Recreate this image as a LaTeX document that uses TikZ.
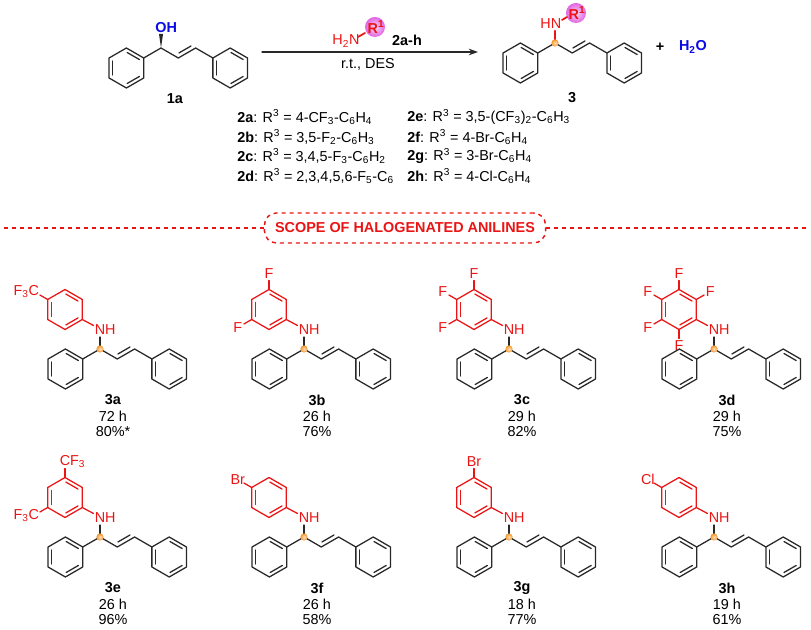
\documentclass[tikz,border=0pt]{standalone}
\usepackage{fontspec}
\setmainfont{Liberation Sans}
\usetikzlibrary{calc,arrows.meta}
\definecolor{rd}{RGB}{235,20,20}
\definecolor{bl}{RGB}{10,10,230}
\definecolor{bk}{RGB}{40,40,40}
\definecolor{pk}{RGB}{225,100,225}
\definecolor{og}{RGB}{245,150,40}
\tikzset{bond/.style={draw=bk,line width=0.95pt,line join=round,line cap=round},
 rbond/.style={draw=rd,line width=0.95pt,line join=round,line cap=round},
 txt/.style={font=\fontsize{10.8}{13}\selectfont,inner sep=0pt},
 rtxt/.style={txt,text=rd},
 ball/.style={inner color=pk!25,outer color=pk}}
\newcommand\hexa[2]{\begin{scope}[shift={#1}]
 \draw[#2] (-90:20)--(-30:20)--(30:20)--(90:20)--(150:20)--(210:20)--cycle;
 \foreach \a in {-90,30,150} \draw[#2] (\a+3:15.5)--(\a+57:15.5);
 \end{scope}}
\newcommand\skel[2]{\begin{scope}[shift={(#1,#2)}]
 \draw[bond] (-17.3,10) -- (0,0) -- (17.3,10) -- (34.6,0) -- (51.9,10);
 \draw[bond] (17.9,5) -- (30,-2);
 \hexa{(-34.6,20)}{bond}\hexa{(69.2,20)}{bond}
 \end{scope}}
\newcommand\odt[2]{\shade[inner color=og!30,outer color=og] (#1,#2) circle (3.6);}
\newcommand\aryl[2]{\begin{scope}[shift={(#1,#2)}]
 \draw[bond] (0,0)--(0,-12);
 \node[rtxt] at (0,-19) {N\rlap{H}};
 \draw[rbond] (-17.7,-29.5)--(-6.5,-23.5);
 \hexa{(-35,-39.5)}{rbond}
 \end{scope}}
\newcommand\subst[4]{\begin{scope}[shift={(#1-35,#2-39.5)}]
 \draw[rbond] (#3:20)--(#3:29);
 \node[rtxt] at (#3:36) {#4};
 \end{scope}}
\newcommand\lab[5]{\node[txt] at (#1+13,#2+51) {\textbf{#3}};
 \node[txt] at (#1+13,#2+67) {#4};
 \node[txt] at (#1+13,#2+83) {#5};}
\newcommand\Ft{F\textsubscript{3}}
\begin{document}
\begin{tikzpicture}[x=0.75pt,y=-0.75pt]
\useasboundingbox (0,0) rectangle (811,630);
% 1a
\skel{161}{48}
\fill[bk] (161,48) -- (159,34) -- (163,34) -- cycle;
\node[txt,text=bl] (oh) at (161,28) {\textbf{O\rlap{H}}};
\node[txt] (l1a) at (175,99) {\textbf{1a}};
% arrow
\coordinate (a1) at (262,52); \coordinate (a2) at (478,52);
\draw[bond,-{Stealth[length=7pt,width=5pt]}] (a1) -- (a2);
\node[rtxt] (h2n) at (346,41) {H\textsubscript{2}N};
\shade[ball] (375,27) circle (10);
\draw[rbond,line width=1.3pt] (358,37) -- (365,33);
\node[rtxt] (r1a) at (376,27) {\textbf{R\textsuperscript{1}}};
\node[txt] (ah) at (407,40) {\textbf{2a-h}};
\node[txt] (rt) at (368,64) {r.t., DES};
% product 3
\skel{555}{43}
\draw[rbond,line width=2.2pt] (555,43) -- (555,31);
\node[rtxt] (hn) at (556,24) {\llap{H}N};
\shade[ball] (576,13) circle (10);
\draw[rbond,line width=1.3pt] (562,20) -- (567,17);
\node[rtxt] (r1b) at (577,13) {\textbf{R\textsuperscript{1}}};
\odt{555}{43}
\node[txt] (l3) at (572,98) {\textbf{3}};
\node[txt] (plus) at (660,47) {\textbf{+}};
\node[txt,text=bl] (h2o) at (693,47) {\textbf{H\textsubscript{2}O}};
% list
\begin{scope}[every node/.style={txt,anchor=west}]
\node (la) at (237,117) {\textbf{2a}: R\textsuperscript{3} = 4-CF\textsubscript{3}-C\textsubscript{6}H\textsubscript{4}};
\node (lb) at (237,137) {\textbf{2b}: R\textsuperscript{3} = 3,5-F\textsubscript{2}-C\textsubscript{6}H\textsubscript{3}};
\node (lc) at (237,156) {\textbf{2c}: R\textsuperscript{3} = 3,4,5-F\textsubscript{3}-C\textsubscript{6}H\textsubscript{2}};
\node (ld) at (237,176) {\textbf{2d}: R\textsuperscript{3} = 2,3,4,5,6-F\textsubscript{5}-C\textsubscript{6}};
\node (le) at (407,117) {\textbf{2e}: R\textsuperscript{3} = 3,5-(CF\textsubscript{3})\textsubscript{2}-C\textsubscript{6}H\textsubscript{3}};
\node (lf) at (407,137) {\textbf{2f}: R\textsuperscript{3} = 4-Br-C\textsubscript{6}H\textsubscript{4}};
\node (lg) at (407,156) {\textbf{2g}: R\textsuperscript{3} = 3-Br-C\textsubscript{6}H\textsubscript{4}};
\node (lh) at (407,176) {\textbf{2h}: R\textsuperscript{3} = 4-Cl-C\textsubscript{6}H\textsubscript{4}};
\end{scope}
% divider
\node[txt,text=rd,draw=rd,dashed,line width=1.1pt,rounded corners=9pt,inner xsep=8pt,minimum height=30*0.75pt] (box) at (405,228) {\textbf{SCOPE OF HALOGENATED ANILINES}};
\coordinate (d1) at (4,228); \coordinate (d2) at (808,228);
\draw[draw=rd,dashed,line width=1.1pt] (d1) -- (box.west);
\draw[draw=rd,dashed,line width=1.1pt] (box.east) -- (d2);
% products
\foreach \x/\y in {100/349,304/349,509/349,714/349,100/537,304/537,509/537,714/537}{
 \skel{\x}{\y}\aryl{\x}{\y}\odt{\x}{\y}}
\subst{100}{349}{210}{\llap{\Ft}C}
\subst{304}{349}{-90}{F}\subst{304}{349}{150}{F}
\subst{509}{349}{-90}{F}\subst{509}{349}{210}{F}\subst{509}{349}{150}{F}
\subst{714}{349}{-30}{F}\subst{714}{349}{-90}{F}\subst{714}{349}{210}{F}\subst{714}{349}{150}{F}\subst{714}{349}{90}{F}
\subst{100}{537}{-90}{C\rlap{\Ft}}\subst{100}{537}{150}{\llap{\Ft}C}
\subst{304}{537}{210}{Br}
\subst{509}{537}{-90}{Br}
\subst{714}{537}{210}{Cl}
\lab{100}{349}{3a}{72 h}{80\%*}
\lab{304}{349}{3b}{26 h}{76\%}
\lab{509}{349}{3c}{29 h}{82\%}
\lab{714}{349}{3d}{29 h}{75\%}
\lab{100}{537}{3e}{26 h}{96\%}
\lab{304}{537}{3f}{26 h}{58\%}
\lab{509}{537}{3g}{18 h}{77\%}
\lab{714}{537}{3h}{19 h}{61\%}
\end{tikzpicture}
\end{document}
